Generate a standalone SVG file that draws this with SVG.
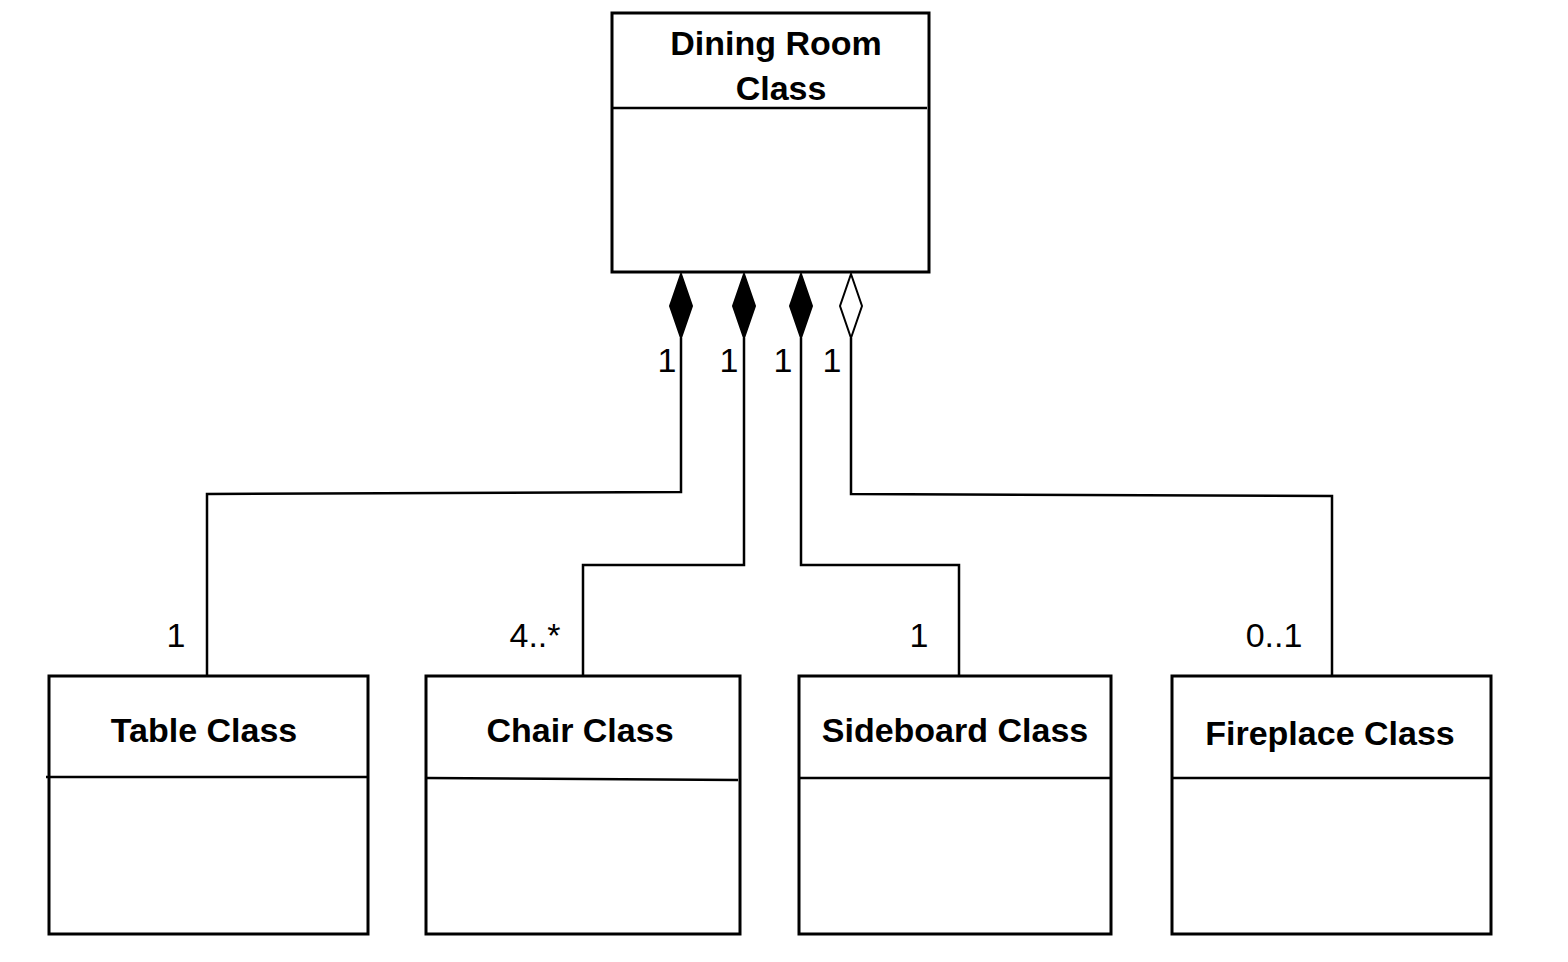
<svg xmlns="http://www.w3.org/2000/svg" width="1568" height="962" viewBox="0 0 1568 962">
<style>
.box{fill:#fff;stroke:#000;stroke-width:3}
.ln{fill:none;stroke:#000;stroke-width:2.5}
.t{font-family:"Liberation Sans",Arial,sans-serif;font-weight:bold;font-size:34px;text-anchor:middle}
.m{font-family:"Liberation Sans",Arial,sans-serif;font-size:34px;text-anchor:middle}
</style>
<rect width="1568" height="962" fill="#fff"/>
<g id="dining"><rect class="box" x="612" y="13" width="317" height="259"/><line class="ln" x1="612" y1="108" x2="927" y2="108"/><text class="t" x="776" y="55">Dining Room</text><text class="t" x="781" y="100">Class</text></g>
<g id="table"><rect class="box" x="49" y="676" width="319" height="258"/><line class="ln" x1="46" y1="777" x2="368" y2="777"/><text class="t" x="204" y="742">Table Class</text></g>
<g id="chair"><rect class="box" x="426" y="676" width="314" height="258"/><line class="ln" x1="426" y1="778" x2="738" y2="780"/><text class="t" x="580" y="742">Chair Class</text></g>
<g id="sideboard"><rect class="box" x="799" y="676" width="312" height="258"/><line class="ln" x1="799" y1="778" x2="1111" y2="778"/><text class="t" x="955" y="742">Sideboard Class</text></g>
<g id="fireplace"><rect class="box" x="1172" y="676" width="319" height="258"/><line class="ln" x1="1172" y1="778" x2="1491" y2="778"/><text class="t" x="1330" y="745">Fireplace Class</text></g>
<g id="connectors">
<polyline class="ln" points="681,338 681,492 207,494 207,676"/>
<polyline class="ln" points="744,338 744,565 583,565 583,676"/>
<polyline class="ln" points="801,338 801,565 959,565 959,676"/>
<polyline class="ln" points="851,338 851,494 1332,496 1332,676"/>
<polygon points="681,274 692,306 681,338 670,306" fill="#000" stroke="#000" stroke-width="2"/>
<polygon points="744,274 755,306 744,338 733,306" fill="#000" stroke="#000" stroke-width="2"/>
<polygon points="801,274 812,306 801,338 790,306" fill="#000" stroke="#000" stroke-width="2"/>
<polygon points="851,274 862,306 851,338 840,306" fill="#fff" stroke="#000" stroke-width="2"/>
<text class="m" x="667" y="372">1</text><text class="m" x="729" y="372">1</text><text class="m" x="783" y="372">1</text><text class="m" x="832" y="372">1</text>
<text class="m" x="176" y="647">1</text><text class="m" x="535" y="647">4..*</text><text class="m" x="919" y="647">1</text><text class="m" x="1274" y="647">0..1</text>
</g>
</svg>
